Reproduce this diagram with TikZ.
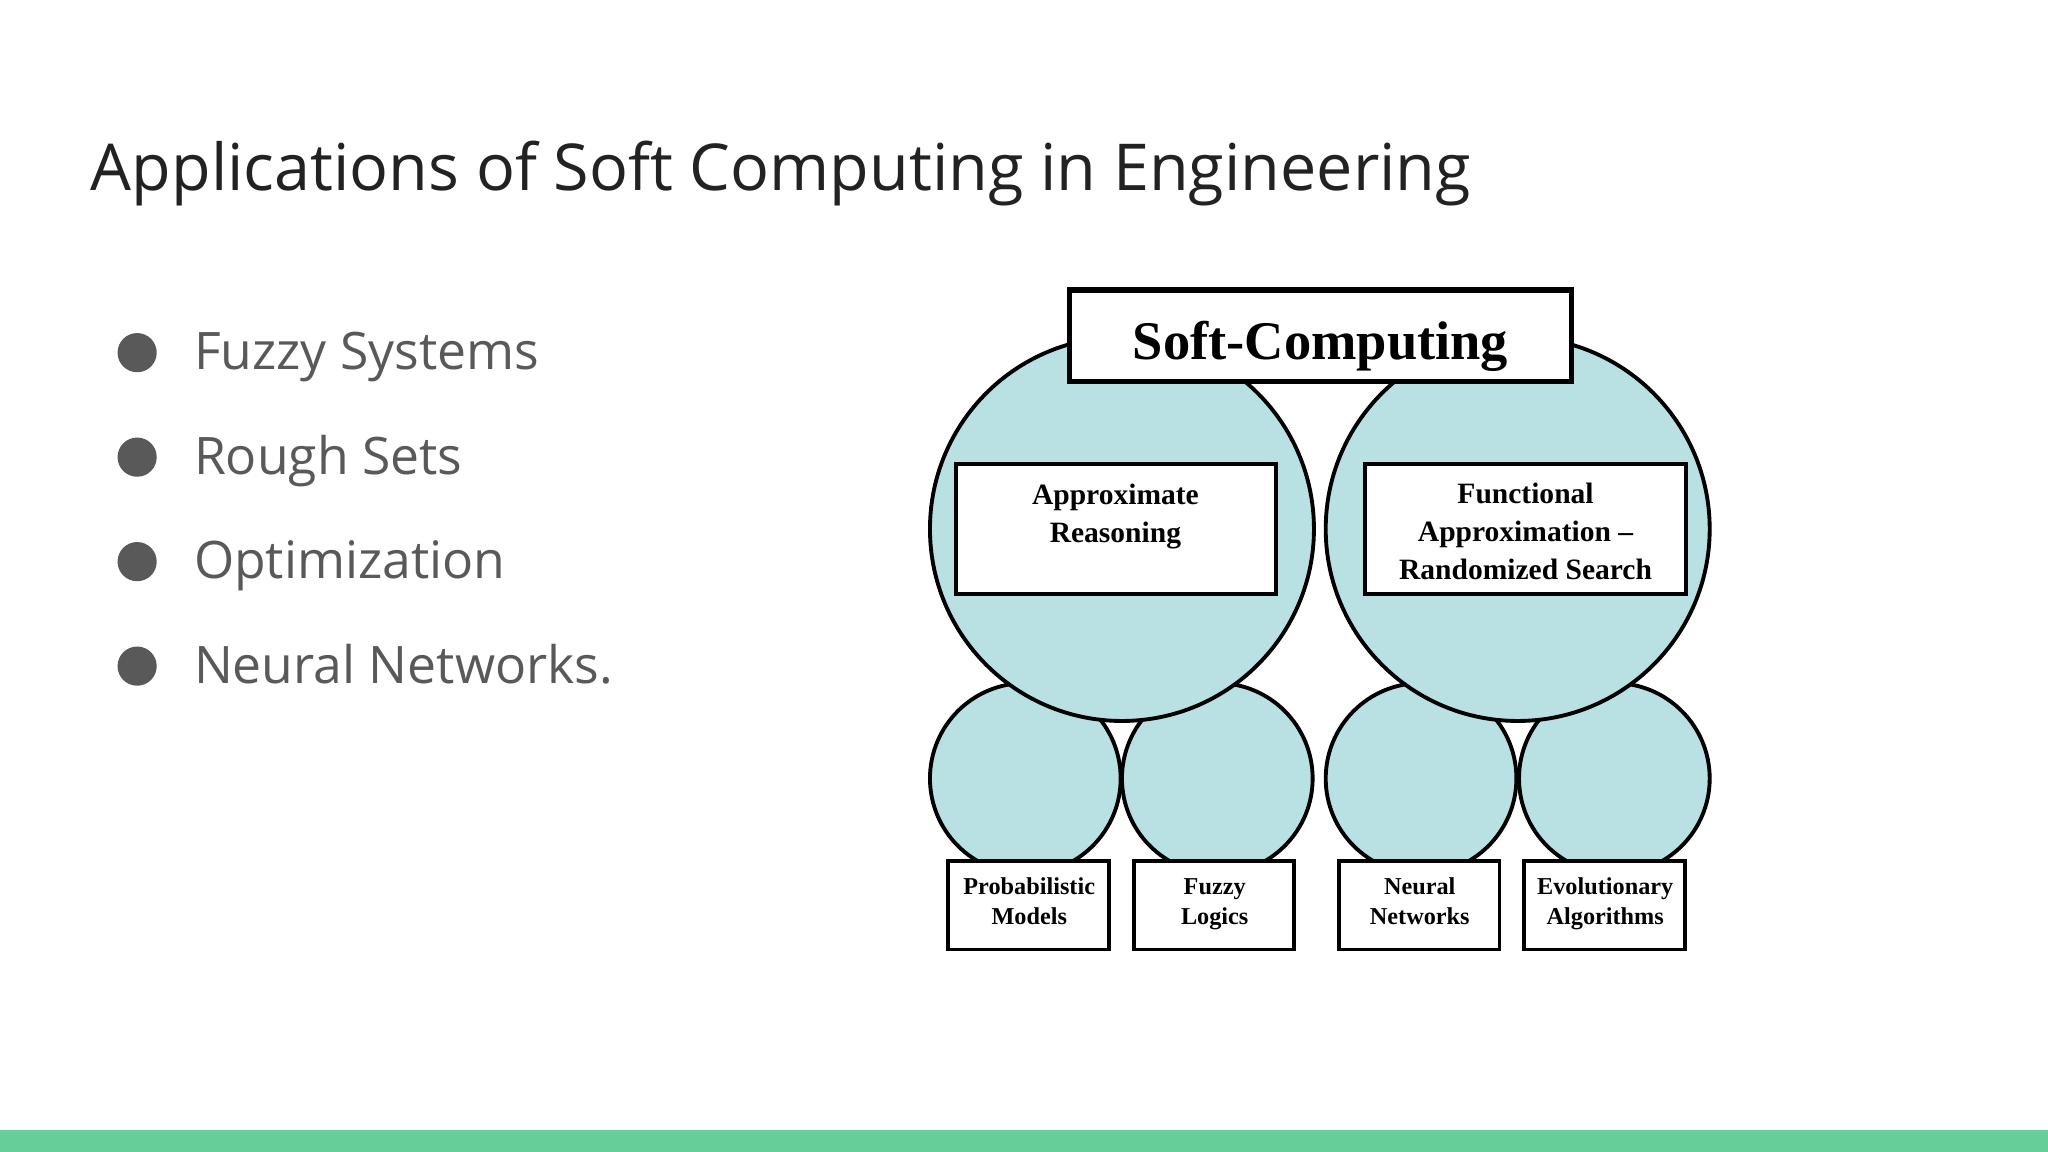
\documentclass[tikz,border=0pt]{standalone}
\usepackage{fontspec}
\setmainfont{Open Sans}
\newfontfamily\diagfont{Liberation Serif}
\definecolor{titlec}{HTML}{222222}
\definecolor{bulc}{HTML}{595959}
\definecolor{cfill}{HTML}{B9E0E3}
\definecolor{barc}{HTML}{66CF99}
\begin{document}
\begin{tikzpicture}[x=0.013061cm,y=-0.013061cm,
  circ/.style={draw=black,fill=cfill,line width=1.1pt},
  ibox/.style={draw=black,fill=white,line width=1.1pt},
  btxt/.style={font=\diagfont\bfseries\fontsize{6.9pt}{8.5pt}\selectfont,align=center,text=black},
  itxt/.style={font=\diagfont\bfseries\fontsize{8.4pt}{10.8pt}\selectfont,align=center,text=black},
  bul/.style={anchor=base west,font=\fontsize{14.7pt}{18pt}\selectfont,text=bulc}]
\useasboundingbox (0,0) rectangle (1568,882);
\fill[white] (0,0) rectangle (1568,882);
\fill[barc] (0,865) rectangle (1568,882);
\node[anchor=base west,inner sep=0,font=\fontsize{18.4pt}{22pt}\selectfont,text=titlec] (title) at (69,146) {Applications of Soft Computing in Engineering};
\foreach \yy/\t [count=\i] in {270/Fuzzy Systems,350/Rough Sets,430/Optimization,510/Neural Networks.}{
  \fill[bulc] (105,\yy) circle (15);
  \node[bul,inner sep=0] (b\i) at (148,\yy+13) {\t};
}
% small circles
\foreach \cx [count=\i] in {785,932,1088,1236}{
  \draw[circ] (\cx,596) circle (73);
}
% big circles
\draw[circ] (859,405) circle (147);
\draw[circ] (1162,405) circle (147);
% top box
\draw[ibox,line width=1.5pt] (819,222) rectangle (1203,292);
\node[anchor=base,font=\diagfont\bfseries\fontsize{15.5pt}{18pt}\selectfont] (sc) at (1011,275) {Soft-Computing};
% inner boxes
\draw[ibox] (732,355) rectangle (977,455);
\node[itxt] (ar) at (854,395) {Approximate\strut\\Reasoning\strut};
\draw[ibox] (1045,355) rectangle (1291,455);
\node[itxt] (fa) at (1168,409) {Functional\strut\\Approximation –\strut\\Randomized Search\strut};
% bottom boxes
\foreach \x/\t [count=\i] in {726/Probabilistic\strut\\Models\strut,868/Fuzzy\strut\\Logics\strut,1025/Neural\strut\\Networks\strut,1167/Evolutionary\strut\\Algorithms\strut}{
  \draw[ibox] (\x,659) rectangle (\x+123,727);
  \node[btxt] (bb\i) at (\x+62,692) {\t};
}
\end{tikzpicture}
\end{document}
